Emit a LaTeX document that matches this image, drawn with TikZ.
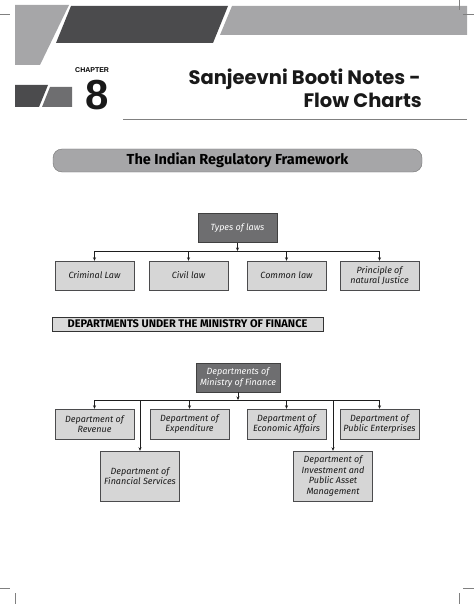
\documentclass[tikz,border=0pt]{standalone}
\usepackage{fontspec}
\newfontfamily\handfont{Fira Sans}
\newfontfamily\titlefont{Poppins}
\newfontfamily\numfont{Liberation Sans}
\usepackage{xcolor}
\definecolor{sbgray}{HTML}{A6A6A8}
\definecolor{sbdark}{HTML}{4B4B4D}
\definecolor{sbmid}{HTML}{6E6E70}
\definecolor{sblight}{HTML}{D6D6D6}
\definecolor{sbteal}{HTML}{86C2C0}
\definecolor{sbline}{HTML}{1E1E1E}
\usepackage{tikz}
\usetikzlibrary{arrows.meta, positioning}

\begin{document}
\begin{tikzpicture}[
  x=1pt, y=-1pt,
  box/.style={rectangle, draw=sbdark, fill=sblight,
              minimum width=79pt, minimum height=29pt,
              inner sep=2pt, align=center, text=black!90,
              font=\handfont\itshape\fontsize{9}{10.5}\selectfont,
              path picture={\draw[sbteal, line width=2pt]
                (path picture bounding box.north west) --
                (path picture bounding box.north east);}},
  headbox/.style={box, fill=sbmid, draw=black!75, text=white,
                  path picture={}},
  banner/.style={rectangle, rounded corners=9pt, draw=black!55,
                 fill=sbgray, minimum width=369pt, minimum height=23pt,
                 font=\handfont\bfseries\fontsize{14.5}{16}\selectfont},
  secthead/.style={rectangle, draw=black!80, fill=black!15,
                   minimum width=271pt, minimum height=14pt, inner sep=1pt,
                   font=\handfont\bfseries\fontsize{11}{12}\selectfont},
  titletext/.style={anchor=base east, inner sep=0pt, text=black!90,
                    font=\titlefont\bfseries\fontsize{19.5}{21}\selectfont},
  arr/.style={-{Stealth[length=3.5pt, width=3pt]}, thick, color=sbline},
  crop/.style={gray, thin}
]
  \useasboundingbox (0,0) rectangle (474,604);

  % page header
  \fill[sbgray] (15,5) -- (69,5) -- (40,65) -- (15,65) -- cycle;
  \fill[sbdark] (71,6) -- (228,6) -- (213,43) -- (56,43) -- cycle;
  \fill[sbgray] (232,6) -- (467,6) -- (467,35) -- (220,35) -- cycle;
  \fill[sbdark] (15,85) -- (48,85) -- (39,107) -- (15,107) -- cycle;
  \fill[sbmid]  (50,87) -- (72,87) -- (72,107) -- (42,107) -- cycle;
  \node[font=\numfont\bfseries\fontsize{7}{7}\selectfont, anchor=west,
        inner sep=0pt] (chaplabel) at (75,70) {CHAPTER};
  \node[font=\numfont\bfseries\fontsize{42}{42}\selectfont, text=black!90,
        inner sep=0pt] (chapnum) at (97.5,95) {8};
  \node[titletext] (title1) at (421,85)  {Sanjeevni Booti Notes -};
  \node[titletext] (title2) at (422,108) {Flow Charts};
  \draw[gray, line width=1.5pt] (123,119.5) -- (467,119.5);

  % crop marks
  \draw[crop] (459,0) -- (459,10) (463,14) -- (474,14) (0,14) -- (10,14);
  \draw[crop] (0,588) -- (10,588) (15,593) -- (15,604);
  \draw[crop] (463,588) -- (474,588) (459,593) -- (459,604);

  \node[banner] (framework) at (237.5,160.5)
    {The Indian Regulatory Framework};

  % types of laws
  \node[headbox] (types) at (237.5,228) {Types of laws};
  \node[box] (criminal)  at (94.5,275.5)  {Criminal Law};
  \node[box] (civil)     at (188.5,275.5) {Civil law};
  \node[box] (common)    at (286.5,275.5) {Common law};
  \node[box] (principle) at (379.5,275.5)
    {Principle of\\natural Justice};

  \coordinate (lawbus) at (237.5,251);
  \draw[arr] (types.south) -- (lawbus);
  \draw[arr] (lawbus) -| (criminal.north);
  \draw[arr] (lawbus) -| (civil.north);
  \draw[arr] (lawbus) -| (common.north);
  \draw[arr] (lawbus) -| (principle.north);

  \node[secthead] (depthead) at (187.5,324)
    {DEPARTMENTS UNDER THE MINISTRY OF FINANCE};

  % ministry of finance
  \node[headbox, minimum width=84pt] (ministry) at (238,377.5)
    {Departments of\\Ministry of Finance};
  \node[box, minimum height=30pt] (revenue)     at (94.5,424)
    {Department of\\Revenue};
  \node[box, minimum height=30pt] (expenditure) at (189.5,424)
    {Department of\\Expenditure};
  \node[box, minimum height=30pt] (economic)    at (286.5,424)
    {Department of\\Economic Affairs};
  \node[box, minimum height=30pt] (publicent)   at (379.5,424)
    {Department of\\Public Enterprises};
  \node[box, minimum height=50pt] (financial)   at (140,476)
    {Department of\\Financial Services};
  \node[box, minimum height=50pt] (investment)  at (333,476)
    {Department of\\Investment and\\Public Asset\\Management};

  \coordinate (finbus) at (238,400);
  \draw[arr] (ministry.south) -- (finbus);
  \draw[arr] (finbus) -| (revenue.north);
  \draw[arr] (finbus) -| (expenditure.north);
  \draw[arr] (finbus) -| (economic.north);
  \draw[arr] (finbus) -| (publicent.north);
  \draw[arr] (finbus) -| (financial.north);
  \draw[arr] (finbus) -| (investment.north);
\end{tikzpicture}
\end{document}
